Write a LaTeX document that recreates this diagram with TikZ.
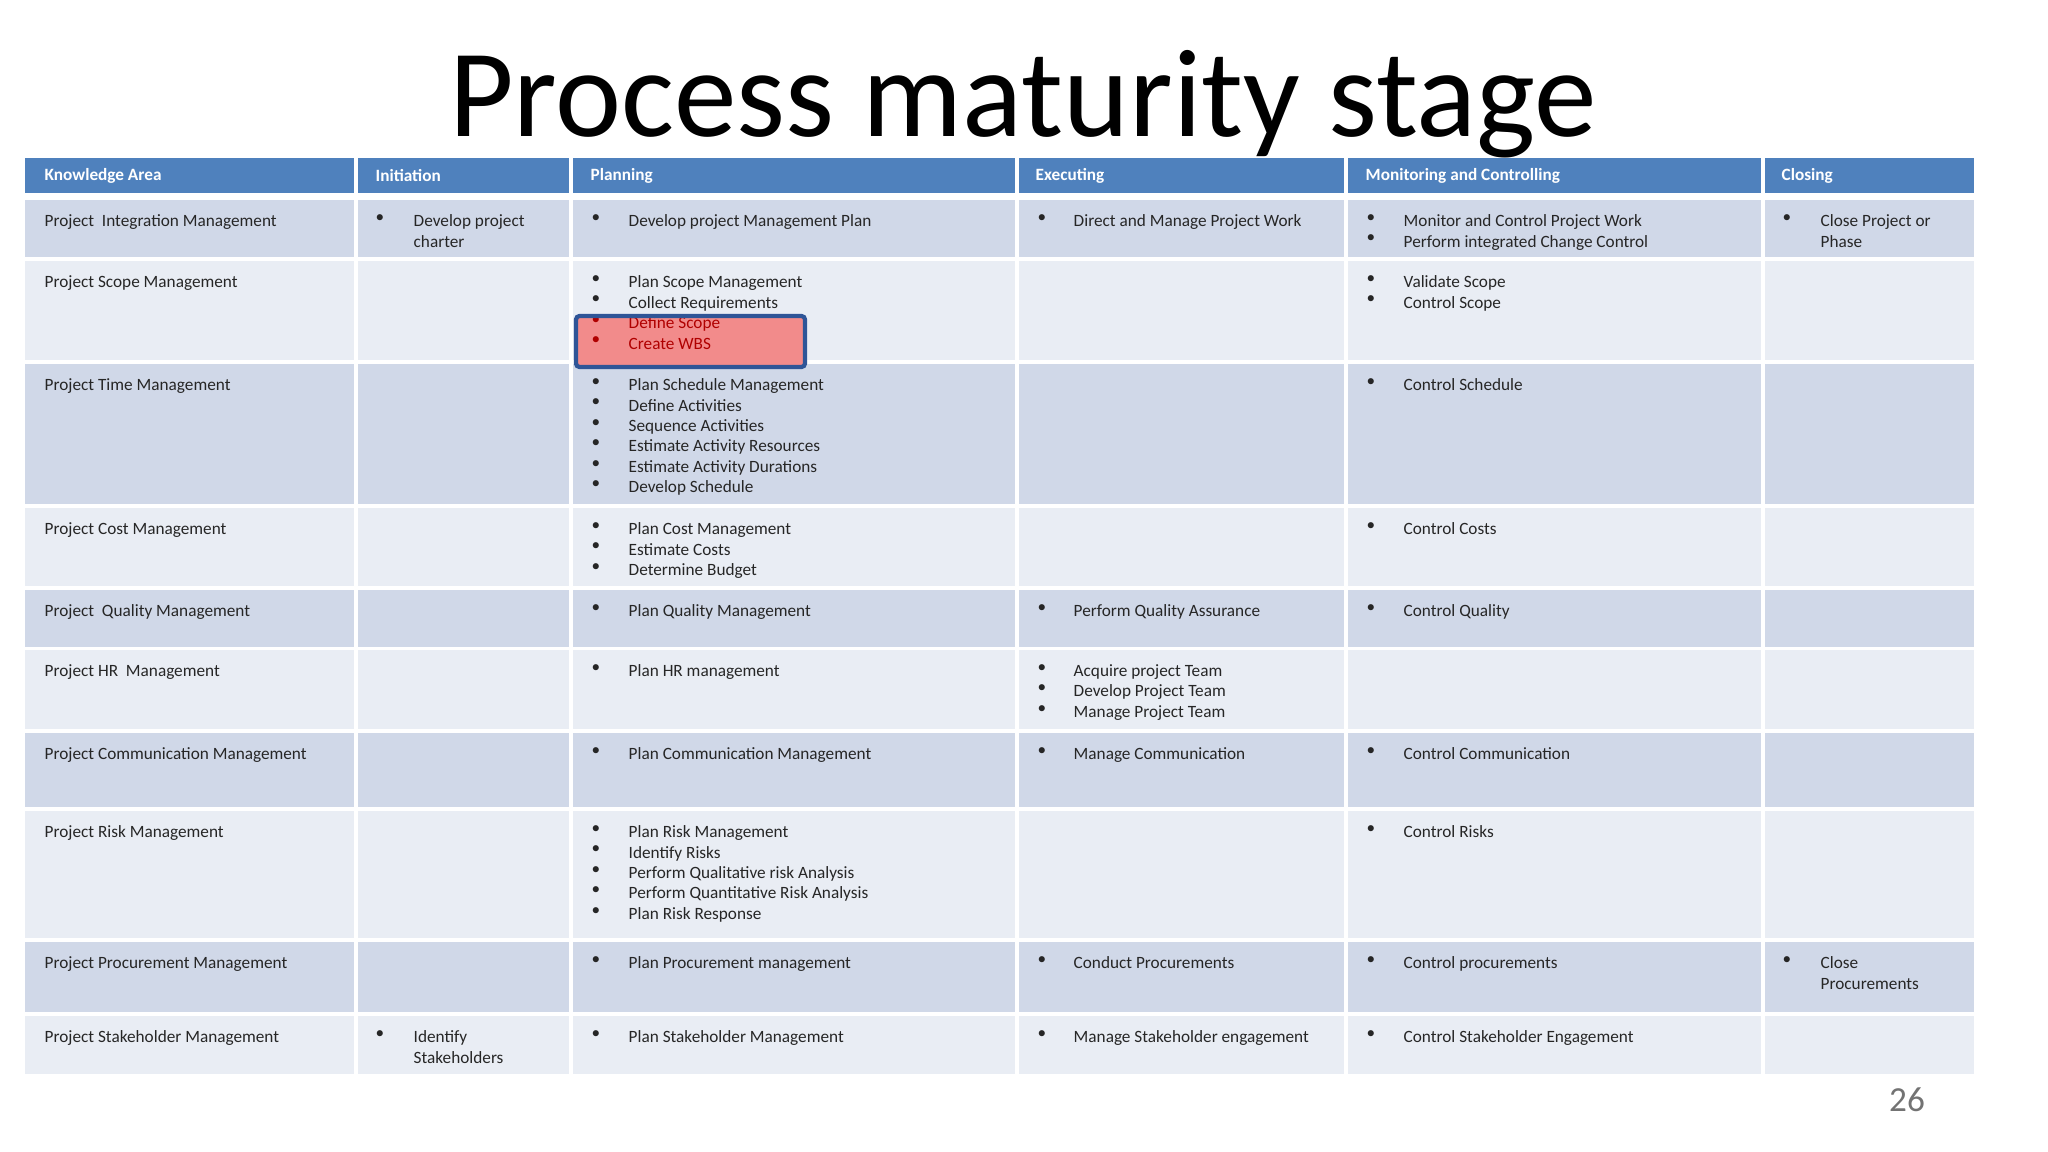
\documentclass[tikz,border=0pt]{standalone}
\usepackage{fontspec}
\setmainfont{Carlito}
\definecolor{hdr}{HTML}{4F81BD}
\definecolor{rowA}{HTML}{D0D8E8}
\definecolor{rowB}{HTML}{E9EDF4}
\definecolor{redfill}{HTML}{F28B8B}
\definecolor{redtxt}{HTML}{B00000}
\definecolor{boxborder}{HTML}{2F5597}
\tikzset{
  celltext/.style={anchor=north west,inner sep=0pt,align=left,font=\fontsize{4.9pt}{5.8pt}\selectfont,text=black!85},
  hdrtext/.style={anchor=west,inner sep=0pt,font=\fontsize{4.9pt}{5.8pt}\selectfont\bfseries,text=white},
}
\newcommand\cellt[4]{\node[celltext] (#1) at (#2,#3+14) {#4};}
\begin{document}
\begin{tikzpicture}[x=0.01cm,y=-0.01cm]
\useasboundingbox[fill=white] (0,0) rectangle (2048,1152);
\node[font=\fontsize{35.6pt}{40pt}\selectfont,text=black] (title) at (1023,104) {Process maturity stage};
\def\cols{25/354,358/569,573/1015,1019/1344,1348/1761,1765/1974}
\foreach \a/\b in \cols {\fill[hdr] (\a,158) rectangle (\b,193);}
\node[hdrtext] (h1) at (44,176) {Knowledge Area};
\node[hdrtext] (h2) at (375,176) {Initiation};
\node[hdrtext] (h3) at (590,176) {Planning};
\node[hdrtext] (h4) at (1035,176) {Executing};
\node[hdrtext] (h5) at (1365,176) {Monitoring and Controlling};
\node[hdrtext] (h6) at (1781,176) {Closing};
\foreach \t/\u/\c in {200/257/rowA,261/360/rowB,364/504/rowA,508/586/rowB,590/647/rowA,650/729/rowB,733/807/rowA,811/938/rowB,942/1012/rowA,1016/1074/rowB}{
  \foreach \a/\b in \cols {\fill[\c] (\a,\t) rectangle (\b,\u);}
}
\cellt{k1}{44}{200}{Project\ \ Integration Management}
\cellt{i1b}{375}{200}{•}\cellt{i1}{413}{200}{Develop project\\charter}
\cellt{p1b}{591}{200}{•}\cellt{p1}{628}{200}{Develop project Management Plan}
\cellt{e1b}{1037}{200}{•}\cellt{e1}{1073}{200}{Direct and Manage Project Work}
\cellt{m1b}{1366}{200}{•\\•}\cellt{m1}{1403}{200}{Monitor and Control Project Work\\Perform integrated Change Control}
\cellt{c1b}{1782}{200}{•}\cellt{c1}{1820}{200}{Close Project or\\Phase}
\cellt{k2}{44}{261}{Project Scope Management}
\cellt{p2b}{591}{261}{•\\•}\cellt{p2}{628}{261}{Plan Scope Management\\Collect Requirements}
\cellt{m2b}{1366}{261}{•\\•}\cellt{m2}{1403}{261}{Validate Scope\\Control Scope}
\fill[redfill] (578,318) rectangle (803,365);
\begin{scope}
\clip (578,318) rectangle (803,365);
\node[celltext,text=redtxt] (p2rb) at (591,316) {•\\•};
\node[celltext,text=redtxt] (p2r) at (628,316) {Define Scope\\Create WBS};
\end{scope}
\draw[boxborder,line width=1.2pt,rounded corners=1pt] (576,316) rectangle (805,367);
\cellt{k3}{44}{364}{Project Time Management}
\cellt{p3b}{591}{364}{•\\•\\•\\•\\•\\•}\cellt{p3}{628}{364}{Plan Schedule Management\\Define Activities\\Sequence Activities\\Estimate Activity Resources\\Estimate Activity Durations\\Develop Schedule}
\cellt{m3b}{1366}{364}{•}\cellt{m3}{1403}{364}{Control Schedule}
\cellt{k4}{44}{508}{Project Cost Management}
\cellt{p4b}{591}{508}{•\\•\\•}\cellt{p4}{628}{508}{Plan Cost Management\\Estimate Costs\\Determine Budget}
\cellt{m4b}{1366}{508}{•}\cellt{m4}{1403}{508}{Control Costs}
\cellt{k5}{44}{590}{Project\ \ Quality Management}
\cellt{p5b}{591}{590}{•}\cellt{p5}{628}{590}{Plan Quality Management}
\cellt{e5b}{1037}{590}{•}\cellt{e5}{1073}{590}{Perform Quality Assurance}
\cellt{m5b}{1366}{590}{•}\cellt{m5}{1403}{590}{Control Quality}
\cellt{k6}{44}{650}{Project HR\ \ Management}
\cellt{p6b}{591}{650}{•}\cellt{p6}{628}{650}{Plan HR management}
\cellt{e6b}{1037}{650}{•\\•\\•}\cellt{e6}{1073}{650}{Acquire project Team\\Develop Project Team\\Manage Project Team}
\cellt{k7}{44}{733}{Project Communication Management}
\cellt{p7b}{591}{733}{•}\cellt{p7}{628}{733}{Plan Communication Management}
\cellt{e7b}{1037}{733}{•}\cellt{e7}{1073}{733}{Manage Communication}
\cellt{m7b}{1366}{733}{•}\cellt{m7}{1403}{733}{Control Communication}
\cellt{k8}{44}{811}{Project Risk Management}
\cellt{p8b}{591}{811}{•\\•\\•\\•\\•}\cellt{p8}{628}{811}{Plan Risk Management\\Identify Risks\\Perform Qualitative risk Analysis\\Perform Quantitative Risk Analysis\\Plan Risk Response}
\cellt{m8b}{1366}{811}{•}\cellt{m8}{1403}{811}{Control Risks}
\cellt{k9}{44}{942}{Project Procurement Management}
\cellt{p9b}{591}{942}{•}\cellt{p9}{628}{942}{Plan Procurement management}
\cellt{e9b}{1037}{942}{•}\cellt{e9}{1073}{942}{Conduct Procurements}
\cellt{m9b}{1366}{942}{•}\cellt{m9}{1403}{942}{Control procurements}
\cellt{c9b}{1782}{942}{•}\cellt{c9}{1820}{942}{Close\\Procurements}
\cellt{k10}{44}{1016}{Project Stakeholder Management}
\cellt{i10b}{375}{1016}{•}\cellt{i10}{413}{1016}{Identify\\Stakeholders}
\cellt{p10b}{591}{1016}{•}\cellt{p10}{628}{1016}{Plan Stakeholder Management}
\cellt{e10b}{1037}{1016}{•}\cellt{e10}{1073}{1016}{Manage Stakeholder engagement}
\cellt{m10b}{1366}{1016}{•}\cellt{m10}{1403}{1016}{Control Stakeholder Engagement}
\node[font=\fontsize{10pt}{12pt}\selectfont,text=black!55] (pg) at (1907,1100) {26};
\end{tikzpicture}
\end{document}
